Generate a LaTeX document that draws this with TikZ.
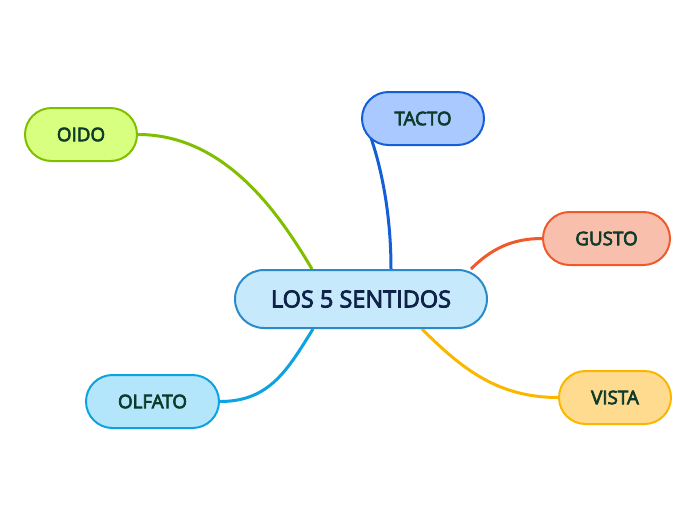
\documentclass[tikz,border=0pt]{standalone}
\usepackage{fontspec}
\setmainfont{Open Sans}[FakeBold=3.5]
\usetikzlibrary{backgrounds}
\definecolor{cfill}{HTML}{C6EAFB}
\definecolor{cdraw}{HTML}{2B8ACB}
\definecolor{ctext}{HTML}{10224A}
\definecolor{ltext}{HTML}{0C3B2C}
\definecolor{oidofill}{HTML}{D9FF80}
\definecolor{oidodraw}{HTML}{80BE00}
\definecolor{tactofill}{HTML}{A9C9FF}
\definecolor{tactodraw}{HTML}{155FD6}
\definecolor{gustofill}{HTML}{F9BFAD}
\definecolor{gustodraw}{HTML}{F0592A}
\definecolor{olfatofill}{HTML}{B3E6FA}
\definecolor{olfatodraw}{HTML}{0BA3E1}
\definecolor{vistafill}{HTML}{FFDB8F}
\definecolor{vistadraw}{HTML}{FBB700}
\tikzset{
  pill/.style={rounded corners=26.5pt, line width=2pt, minimum height=53pt, inner sep=0pt, text=ltext, font=\fontsize{18.8}{21}\selectfont},
  centerpill/.style={rounded corners=29pt, line width=2pt, minimum height=58pt, minimum width=252pt, inner sep=0pt, draw=cdraw, fill=cfill, text=ctext, font=\fontsize{23.5}{26}\selectfont},
  conn/.style={line width=3pt}
}
\begin{document}
\begin{tikzpicture}[x=1pt,y=-1pt]
\useasboundingbox (0,0) rectangle (696,520);
\node[centerpill] (c) at (361,299) {LOS 5 SENTIDOS};
\node[pill, draw=oidodraw, fill=oidofill, minimum width=112pt] (oido) at (81,134.5) {OIDO};
\node[pill, draw=tactodraw, fill=tactofill, minimum width=122pt] (tacto) at (423,118.5) {TACTO};
\node[pill, draw=gustodraw, fill=gustofill, minimum width=127pt] (gusto) at (606.5,238.5) {GUSTO};
\node[pill, draw=olfatodraw, fill=olfatofill, minimum width=133pt] (olfato) at (152.5,401.5) {OLFATO};
\node[pill, draw=vistadraw, fill=vistafill, minimum width=112pt] (vista) at (615,397.5) {VISTA};
\begin{pgfonlayer}{background}
\draw[conn, draw=oidodraw] (oido.east) .. controls +(90,0) and +(-30,-50) .. ([xshift=-49pt]c.north);
\draw[conn, draw=tactodraw] ([xshift=-52pt,yshift=8pt]tacto.south) .. controls +(12,35) and +(0,-50) .. ([xshift=30pt]c.north);
\draw[conn, draw=gustodraw] ([xshift=110pt]c.north) .. controls +(20,-20) and +(-30,0) .. (gusto.west);
\draw[conn, draw=vistadraw] ([xshift=61pt]c.south) .. controls +(40,40) and +(-60,0) .. (vista.west);
\draw[conn, draw=olfatodraw] ([xshift=-48pt]c.south) .. controls +(-25,40) and +(50,0) .. (olfato.east);
\end{pgfonlayer}
\end{tikzpicture}
\end{document}
